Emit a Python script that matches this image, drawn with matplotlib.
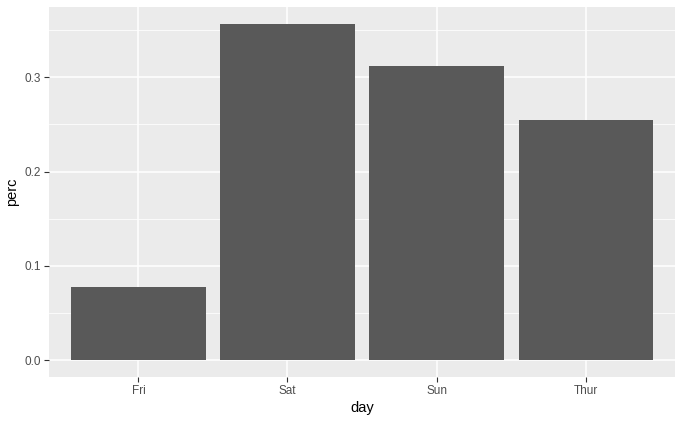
import matplotlib
matplotlib.use("Agg")
import matplotlib.pyplot as plt
import numpy as np

plt.rcParams["font.family"] = ["Liberation Sans", "DejaVu Sans"]

# share of tips per day
days = ["Fri", "Sat", "Sun", "Thur"]
perc = [19 / 244, 87 / 244, 76 / 244, 62 / 244]

fig = plt.figure(figsize=(6.83, 4.22), dpi=100)
W, H = 683, 422
ax = fig.add_axes([49 / W, 1 - 377 / H, (675 - 49) / W, (377 - 7) / H])
ax.set_facecolor("#EBEBEB")

x = np.arange(len(days))
ax.bar(x, perc, width=0.9, color="#595959", zorder=3)

ymax = max(perc)
ax.set_xlim(-0.6, len(days) - 0.4)
ax.set_ylim(-0.05 * ymax, 1.05 * ymax)

yt = [0.0, 0.1, 0.2, 0.3]
ax.set_yticks(yt)
ax.set_yticklabels([f"{v:.1f}" for v in yt])
ax.set_yticks([0.05, 0.15, 0.25, 0.35], minor=True)
ax.set_xticks(x)
ax.set_xticklabels(days)

ax.grid(True, which="major", color="white", linewidth=1.1, zorder=1)
ax.grid(True, which="minor", axis="y", color="white", linewidth=0.55, zorder=1)
for s in ax.spines.values():
    s.set_visible(False)

ax.tick_params(which="major", length=3.5, width=0.8, color="#333333",
               labelcolor="#4D4D4D", labelsize=8.5, pad=2)
ax.tick_params(which="minor", length=0)

ax.set_xlabel("day", fontsize=10.5, color="black", labelpad=3)
ax.set_ylabel("perc", fontsize=10.5, color="black", labelpad=4)

fig.savefig("out.png", dpi=100)
